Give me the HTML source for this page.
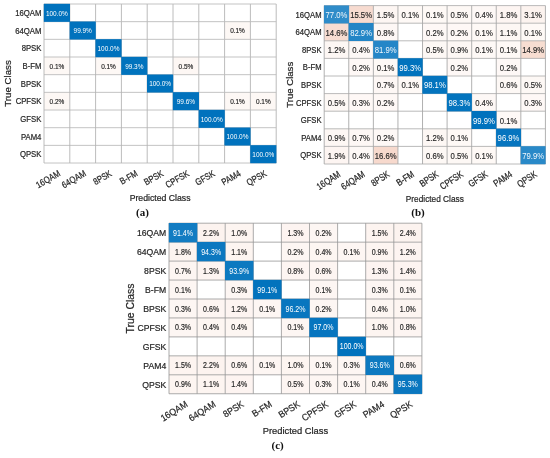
<!DOCTYPE html>
<html lang="en">
<head>
<meta charset="utf-8">
<title>Confusion matrices</title>
<style>
html,body{margin:0;padding:0;background:#fff;}
body{width:550px;height:458px;overflow:hidden;}
svg{display:block;}
svg text{font-family:"Liberation Sans",Arial,Helvetica,sans-serif;}
svg text.lb{stroke:#262626;stroke-width:0.22px;}
svg text.ct{stroke:#262626;stroke-width:0.18px;}
svg text.cap{font-family:"Liberation Serif","Times New Roman",serif;font-weight:bold;}
</style>
</head>
<body>
<svg width="550" height="458" viewBox="0 0 550 458">
<rect x="0" y="0" width="550" height="458" fill="#ffffff"/>
<g class="chart-a">
<rect x="224.60" y="21.67" width="25.80" height="17.67" fill="#fdf8f5"/>
<rect x="44.00" y="57.01" width="25.80" height="17.67" fill="#fdf8f5"/>
<rect x="95.60" y="57.01" width="25.80" height="17.67" fill="#fdf8f5"/>
<rect x="173.00" y="57.01" width="25.80" height="17.67" fill="#fdf7f4"/>
<rect x="44.00" y="92.35" width="25.80" height="17.67" fill="#fdf8f5"/>
<rect x="224.60" y="92.35" width="25.80" height="17.67" fill="#fdf8f5"/>
<rect x="250.40" y="92.35" width="25.80" height="17.67" fill="#fdf8f5"/>
<line x1="44.00" y1="4.00" x2="44.00" y2="163.03" stroke="#bcbcbc" stroke-width="1.0"/>
<line x1="44.00" y1="4.00" x2="276.20" y2="4.00" stroke="#b4b4b4" stroke-width="0.8"/>
<line x1="69.80" y1="4.00" x2="69.80" y2="163.03" stroke="#bcbcbc" stroke-width="1.0"/>
<line x1="44.00" y1="21.67" x2="276.20" y2="21.67" stroke="#b4b4b4" stroke-width="0.8"/>
<line x1="95.60" y1="4.00" x2="95.60" y2="163.03" stroke="#bcbcbc" stroke-width="1.0"/>
<line x1="44.00" y1="39.34" x2="276.20" y2="39.34" stroke="#b4b4b4" stroke-width="0.8"/>
<line x1="121.40" y1="4.00" x2="121.40" y2="163.03" stroke="#bcbcbc" stroke-width="1.0"/>
<line x1="44.00" y1="57.01" x2="276.20" y2="57.01" stroke="#b4b4b4" stroke-width="0.8"/>
<line x1="147.20" y1="4.00" x2="147.20" y2="163.03" stroke="#bcbcbc" stroke-width="1.0"/>
<line x1="44.00" y1="74.68" x2="276.20" y2="74.68" stroke="#b4b4b4" stroke-width="0.8"/>
<line x1="173.00" y1="4.00" x2="173.00" y2="163.03" stroke="#bcbcbc" stroke-width="1.0"/>
<line x1="44.00" y1="92.35" x2="276.20" y2="92.35" stroke="#b4b4b4" stroke-width="0.8"/>
<line x1="198.80" y1="4.00" x2="198.80" y2="163.03" stroke="#bcbcbc" stroke-width="1.0"/>
<line x1="44.00" y1="110.02" x2="276.20" y2="110.02" stroke="#b4b4b4" stroke-width="0.8"/>
<line x1="224.60" y1="4.00" x2="224.60" y2="163.03" stroke="#bcbcbc" stroke-width="1.0"/>
<line x1="44.00" y1="127.69" x2="276.20" y2="127.69" stroke="#b4b4b4" stroke-width="0.8"/>
<line x1="250.40" y1="4.00" x2="250.40" y2="163.03" stroke="#bcbcbc" stroke-width="1.0"/>
<line x1="44.00" y1="145.36" x2="276.20" y2="145.36" stroke="#b4b4b4" stroke-width="0.8"/>
<line x1="276.20" y1="4.00" x2="276.20" y2="163.03" stroke="#bcbcbc" stroke-width="1.0"/>
<line x1="44.00" y1="163.03" x2="276.20" y2="163.03" stroke="#b4b4b4" stroke-width="0.8"/>
<rect x="43.80" y="3.80" width="26.20" height="18.07" fill="#0072bd"/>
<rect x="69.60" y="21.47" width="26.20" height="18.07" fill="#0072bd"/>
<rect x="95.40" y="39.14" width="26.20" height="18.07" fill="#0072bd"/>
<rect x="121.20" y="56.81" width="26.20" height="18.07" fill="#0173bd"/>
<rect x="147.00" y="74.48" width="26.20" height="18.07" fill="#0072bd"/>
<rect x="172.80" y="92.15" width="26.20" height="18.07" fill="#0172bd"/>
<rect x="198.60" y="109.82" width="26.20" height="18.07" fill="#0072bd"/>
<rect x="224.40" y="127.49" width="26.20" height="18.07" fill="#0072bd"/>
<rect x="250.20" y="145.16" width="26.20" height="18.07" fill="#0072bd"/>
<text class="cw" transform="translate(56.90,15.71) scale(0.81,1)" text-anchor="middle" font-size="8.0" fill="#ffffff">100.0%</text>
<text class="cw" transform="translate(82.70,33.39) scale(0.81,1)" text-anchor="middle" font-size="8.0" fill="#ffffff">99.9%</text>
<text class="ct" transform="translate(237.50,33.39) scale(0.81,1)" text-anchor="middle" font-size="8.0" fill="#262626">0.1%</text>
<text class="cw" transform="translate(108.50,51.06) scale(0.81,1)" text-anchor="middle" font-size="8.0" fill="#ffffff">100.0%</text>
<text class="ct" transform="translate(56.90,68.72) scale(0.81,1)" text-anchor="middle" font-size="8.0" fill="#262626">0.1%</text>
<text class="ct" transform="translate(108.50,68.72) scale(0.81,1)" text-anchor="middle" font-size="8.0" fill="#262626">0.1%</text>
<text class="cw" transform="translate(134.30,68.72) scale(0.81,1)" text-anchor="middle" font-size="8.0" fill="#ffffff">99.3%</text>
<text class="ct" transform="translate(185.90,68.72) scale(0.81,1)" text-anchor="middle" font-size="8.0" fill="#262626">0.5%</text>
<text class="cw" transform="translate(160.10,86.40) scale(0.81,1)" text-anchor="middle" font-size="8.0" fill="#ffffff">100.0%</text>
<text class="ct" transform="translate(56.90,104.06) scale(0.81,1)" text-anchor="middle" font-size="8.0" fill="#262626">0.2%</text>
<text class="cw" transform="translate(185.90,104.06) scale(0.81,1)" text-anchor="middle" font-size="8.0" fill="#ffffff">99.6%</text>
<text class="ct" transform="translate(237.50,104.06) scale(0.81,1)" text-anchor="middle" font-size="8.0" fill="#262626">0.1%</text>
<text class="ct" transform="translate(263.30,104.06) scale(0.81,1)" text-anchor="middle" font-size="8.0" fill="#262626">0.1%</text>
<text class="cw" transform="translate(211.70,121.74) scale(0.81,1)" text-anchor="middle" font-size="8.0" fill="#ffffff">100.0%</text>
<text class="cw" transform="translate(237.50,139.41) scale(0.81,1)" text-anchor="middle" font-size="8.0" fill="#ffffff">100.0%</text>
<text class="cw" transform="translate(263.30,157.08) scale(0.81,1)" text-anchor="middle" font-size="8.0" fill="#ffffff">100.0%</text>
<text transform="translate(41.40,16.07) scale(0.86,1)" class="lb" text-anchor="end" font-size="9.0" fill="#262626">16QAM</text>
<text transform="translate(41.40,33.75) scale(0.86,1)" class="lb" text-anchor="end" font-size="9.0" fill="#262626">64QAM</text>
<text transform="translate(41.40,51.42) scale(0.86,1)" class="lb" text-anchor="end" font-size="9.0" fill="#262626">8PSK</text>
<text transform="translate(41.40,69.08) scale(0.86,1)" class="lb" text-anchor="end" font-size="9.0" fill="#262626">B-FM</text>
<text transform="translate(41.40,86.76) scale(0.86,1)" class="lb" text-anchor="end" font-size="9.0" fill="#262626">BPSK</text>
<text transform="translate(41.40,104.42) scale(0.86,1)" class="lb" text-anchor="end" font-size="9.0" fill="#262626">CPFSK</text>
<text transform="translate(41.40,122.10) scale(0.86,1)" class="lb" text-anchor="end" font-size="9.0" fill="#262626">GFSK</text>
<text transform="translate(41.40,139.77) scale(0.86,1)" class="lb" text-anchor="end" font-size="9.0" fill="#262626">PAM4</text>
<text transform="translate(41.40,157.44) scale(0.86,1)" class="lb" text-anchor="end" font-size="9.0" fill="#262626">QPSK</text>
<text transform="translate(57.60,169.53) rotate(-30) scale(0.83,1)" class="lb" text-anchor="end" dy="0.72em" font-size="9.3" fill="#262626">16QAM</text>
<text transform="translate(83.40,169.53) rotate(-30) scale(0.83,1)" class="lb" text-anchor="end" dy="0.72em" font-size="9.3" fill="#262626">64QAM</text>
<text transform="translate(109.20,169.53) rotate(-30) scale(0.83,1)" class="lb" text-anchor="end" dy="0.72em" font-size="9.3" fill="#262626">8PSK</text>
<text transform="translate(135.00,169.53) rotate(-30) scale(0.83,1)" class="lb" text-anchor="end" dy="0.72em" font-size="9.3" fill="#262626">B-FM</text>
<text transform="translate(160.80,169.53) rotate(-30) scale(0.83,1)" class="lb" text-anchor="end" dy="0.72em" font-size="9.3" fill="#262626">BPSK</text>
<text transform="translate(186.60,169.53) rotate(-30) scale(0.83,1)" class="lb" text-anchor="end" dy="0.72em" font-size="9.3" fill="#262626">CPFSK</text>
<text transform="translate(212.40,169.53) rotate(-30) scale(0.83,1)" class="lb" text-anchor="end" dy="0.72em" font-size="9.3" fill="#262626">GFSK</text>
<text transform="translate(238.20,169.53) rotate(-30) scale(0.83,1)" class="lb" text-anchor="end" dy="0.72em" font-size="9.3" fill="#262626">PAM4</text>
<text transform="translate(264.00,169.53) rotate(-30) scale(0.83,1)" class="lb" text-anchor="end" dy="0.72em" font-size="9.3" fill="#262626">QPSK</text>
<text transform="translate(160.10,200.7) scale(1.0,1)" class="lb" text-anchor="middle" font-size="8.7" fill="#262626">Predicted Class</text>
<text transform="translate(11.3,83.52) rotate(-90) scale(1.0,1)" class="lb" text-anchor="middle" font-size="9.7" fill="#262626">True Class</text>
<text class="cap" x="142.5" y="215.8" text-anchor="middle" font-size="11" fill="#111">(a)</text>
</g>
<g class="chart-b">
<rect x="348.78" y="5.60" width="24.58" height="17.60" fill="#f7dbd0"/>
<rect x="373.36" y="5.60" width="24.58" height="17.60" fill="#fdf6f3"/>
<rect x="397.94" y="5.60" width="24.58" height="17.60" fill="#fef9f6"/>
<rect x="422.52" y="5.60" width="24.58" height="17.60" fill="#fef9f6"/>
<rect x="447.10" y="5.60" width="24.58" height="17.60" fill="#fdf8f5"/>
<rect x="471.68" y="5.60" width="24.58" height="17.60" fill="#fdf8f6"/>
<rect x="496.26" y="5.60" width="24.58" height="17.60" fill="#fdf5f2"/>
<rect x="520.84" y="5.60" width="24.58" height="17.60" fill="#fcf3ef"/>
<rect x="324.20" y="23.20" width="24.58" height="17.60" fill="#f8ddd2"/>
<rect x="373.36" y="23.20" width="24.58" height="17.60" fill="#fdf7f5"/>
<rect x="422.52" y="23.20" width="24.58" height="17.60" fill="#fef8f6"/>
<rect x="447.10" y="23.20" width="24.58" height="17.60" fill="#fef8f6"/>
<rect x="471.68" y="23.20" width="24.58" height="17.60" fill="#fef9f6"/>
<rect x="496.26" y="23.20" width="24.58" height="17.60" fill="#fdf7f4"/>
<rect x="520.84" y="23.20" width="24.58" height="17.60" fill="#fef9f6"/>
<rect x="324.20" y="40.80" width="24.58" height="17.60" fill="#fdf7f4"/>
<rect x="348.78" y="40.80" width="24.58" height="17.60" fill="#fdf8f6"/>
<rect x="422.52" y="40.80" width="24.58" height="17.60" fill="#fdf8f5"/>
<rect x="447.10" y="40.80" width="24.58" height="17.60" fill="#fdf7f4"/>
<rect x="471.68" y="40.80" width="24.58" height="17.60" fill="#fef9f6"/>
<rect x="496.26" y="40.80" width="24.58" height="17.60" fill="#fef9f6"/>
<rect x="520.84" y="40.80" width="24.58" height="17.60" fill="#f7ddd1"/>
<rect x="348.78" y="58.40" width="24.58" height="17.60" fill="#fef8f6"/>
<rect x="373.36" y="58.40" width="24.58" height="17.60" fill="#fef9f6"/>
<rect x="447.10" y="58.40" width="24.58" height="17.60" fill="#fef8f6"/>
<rect x="496.26" y="58.40" width="24.58" height="17.60" fill="#fef8f6"/>
<rect x="373.36" y="76.00" width="24.58" height="17.60" fill="#fdf7f5"/>
<rect x="397.94" y="76.00" width="24.58" height="17.60" fill="#fef9f6"/>
<rect x="496.26" y="76.00" width="24.58" height="17.60" fill="#fdf8f5"/>
<rect x="520.84" y="76.00" width="24.58" height="17.60" fill="#fdf8f5"/>
<rect x="324.20" y="93.60" width="24.58" height="17.60" fill="#fdf8f5"/>
<rect x="348.78" y="93.60" width="24.58" height="17.60" fill="#fef8f6"/>
<rect x="373.36" y="93.60" width="24.58" height="17.60" fill="#fef8f6"/>
<rect x="471.68" y="93.60" width="24.58" height="17.60" fill="#fdf8f6"/>
<rect x="520.84" y="93.60" width="24.58" height="17.60" fill="#fef8f6"/>
<rect x="496.26" y="111.20" width="24.58" height="17.60" fill="#fef9f6"/>
<rect x="324.20" y="128.80" width="24.58" height="17.60" fill="#fdf7f4"/>
<rect x="348.78" y="128.80" width="24.58" height="17.60" fill="#fdf7f5"/>
<rect x="373.36" y="128.80" width="24.58" height="17.60" fill="#fef8f6"/>
<rect x="422.52" y="128.80" width="24.58" height="17.60" fill="#fdf7f4"/>
<rect x="447.10" y="128.80" width="24.58" height="17.60" fill="#fef9f6"/>
<rect x="324.20" y="146.40" width="24.58" height="17.60" fill="#fdf5f2"/>
<rect x="348.78" y="146.40" width="24.58" height="17.60" fill="#fdf8f6"/>
<rect x="373.36" y="146.40" width="24.58" height="17.60" fill="#f7d9cd"/>
<rect x="422.52" y="146.40" width="24.58" height="17.60" fill="#fdf8f5"/>
<rect x="447.10" y="146.40" width="24.58" height="17.60" fill="#fdf8f5"/>
<rect x="471.68" y="146.40" width="24.58" height="17.60" fill="#fef9f6"/>
<line x1="324.20" y1="5.60" x2="324.20" y2="164.00" stroke="#a8a8a8" stroke-width="0.9"/>
<line x1="324.20" y1="5.60" x2="545.42" y2="5.60" stroke="#a8a8a8" stroke-width="0.8"/>
<line x1="348.78" y1="5.60" x2="348.78" y2="164.00" stroke="#a8a8a8" stroke-width="0.9"/>
<line x1="324.20" y1="23.20" x2="545.42" y2="23.20" stroke="#a8a8a8" stroke-width="0.8"/>
<line x1="373.36" y1="5.60" x2="373.36" y2="164.00" stroke="#a8a8a8" stroke-width="0.9"/>
<line x1="324.20" y1="40.80" x2="545.42" y2="40.80" stroke="#a8a8a8" stroke-width="0.8"/>
<line x1="397.94" y1="5.60" x2="397.94" y2="164.00" stroke="#a8a8a8" stroke-width="0.9"/>
<line x1="324.20" y1="58.40" x2="545.42" y2="58.40" stroke="#a8a8a8" stroke-width="0.8"/>
<line x1="422.52" y1="5.60" x2="422.52" y2="164.00" stroke="#a8a8a8" stroke-width="0.9"/>
<line x1="324.20" y1="76.00" x2="545.42" y2="76.00" stroke="#a8a8a8" stroke-width="0.8"/>
<line x1="447.10" y1="5.60" x2="447.10" y2="164.00" stroke="#a8a8a8" stroke-width="0.9"/>
<line x1="324.20" y1="93.60" x2="545.42" y2="93.60" stroke="#a8a8a8" stroke-width="0.8"/>
<line x1="471.68" y1="5.60" x2="471.68" y2="164.00" stroke="#a8a8a8" stroke-width="0.9"/>
<line x1="324.20" y1="111.20" x2="545.42" y2="111.20" stroke="#a8a8a8" stroke-width="0.8"/>
<line x1="496.26" y1="5.60" x2="496.26" y2="164.00" stroke="#a8a8a8" stroke-width="0.9"/>
<line x1="324.20" y1="128.80" x2="545.42" y2="128.80" stroke="#a8a8a8" stroke-width="0.8"/>
<line x1="520.84" y1="5.60" x2="520.84" y2="164.00" stroke="#a8a8a8" stroke-width="0.9"/>
<line x1="324.20" y1="146.40" x2="545.42" y2="146.40" stroke="#a8a8a8" stroke-width="0.8"/>
<line x1="545.42" y1="5.60" x2="545.42" y2="164.00" stroke="#a8a8a8" stroke-width="0.9"/>
<line x1="324.20" y1="164.00" x2="545.42" y2="164.00" stroke="#a8a8a8" stroke-width="0.8"/>
<rect x="324.00" y="5.40" width="24.98" height="18.00" fill="#2f8cc9"/>
<rect x="348.58" y="23.00" width="24.98" height="18.00" fill="#2385c6"/>
<rect x="373.16" y="40.60" width="24.98" height="18.00" fill="#2586c7"/>
<rect x="397.74" y="58.20" width="24.98" height="18.00" fill="#0173bd"/>
<rect x="422.32" y="75.80" width="24.98" height="18.00" fill="#0474be"/>
<rect x="446.90" y="93.40" width="24.98" height="18.00" fill="#0374be"/>
<rect x="471.48" y="111.00" width="24.98" height="18.00" fill="#0072bd"/>
<rect x="496.06" y="128.60" width="24.98" height="18.00" fill="#0675bf"/>
<rect x="520.64" y="146.20" width="24.98" height="18.00" fill="#2989c8"/>
<text class="cw" transform="translate(336.49,18.06) scale(0.78,1)" text-anchor="middle" font-size="9.9" fill="#f2f7fb">77.0%</text>
<text class="ct" transform="translate(361.07,18.06) scale(0.78,1)" text-anchor="middle" font-size="9.9" fill="#262626">15.5%</text>
<text class="ct" transform="translate(385.65,18.06) scale(0.78,1)" text-anchor="middle" font-size="9.9" fill="#262626">1.5%</text>
<text class="ct" transform="translate(410.23,18.06) scale(0.78,1)" text-anchor="middle" font-size="9.9" fill="#262626">0.1%</text>
<text class="ct" transform="translate(434.81,18.06) scale(0.78,1)" text-anchor="middle" font-size="9.9" fill="#262626">0.1%</text>
<text class="ct" transform="translate(459.39,18.06) scale(0.78,1)" text-anchor="middle" font-size="9.9" fill="#262626">0.5%</text>
<text class="ct" transform="translate(483.97,18.06) scale(0.78,1)" text-anchor="middle" font-size="9.9" fill="#262626">0.4%</text>
<text class="ct" transform="translate(508.55,18.06) scale(0.78,1)" text-anchor="middle" font-size="9.9" fill="#262626">1.8%</text>
<text class="ct" transform="translate(533.13,18.06) scale(0.78,1)" text-anchor="middle" font-size="9.9" fill="#262626">3.1%</text>
<text class="ct" transform="translate(336.49,35.66) scale(0.78,1)" text-anchor="middle" font-size="9.9" fill="#262626">14.6%</text>
<text class="cw" transform="translate(361.07,35.66) scale(0.78,1)" text-anchor="middle" font-size="9.9" fill="#f2f7fb">82.9%</text>
<text class="ct" transform="translate(385.65,35.66) scale(0.78,1)" text-anchor="middle" font-size="9.9" fill="#262626">0.8%</text>
<text class="ct" transform="translate(434.81,35.66) scale(0.78,1)" text-anchor="middle" font-size="9.9" fill="#262626">0.2%</text>
<text class="ct" transform="translate(459.39,35.66) scale(0.78,1)" text-anchor="middle" font-size="9.9" fill="#262626">0.2%</text>
<text class="ct" transform="translate(483.97,35.66) scale(0.78,1)" text-anchor="middle" font-size="9.9" fill="#262626">0.1%</text>
<text class="ct" transform="translate(508.55,35.66) scale(0.78,1)" text-anchor="middle" font-size="9.9" fill="#262626">1.1%</text>
<text class="ct" transform="translate(533.13,35.66) scale(0.78,1)" text-anchor="middle" font-size="9.9" fill="#262626">0.1%</text>
<text class="ct" transform="translate(336.49,53.26) scale(0.78,1)" text-anchor="middle" font-size="9.9" fill="#262626">1.2%</text>
<text class="ct" transform="translate(361.07,53.26) scale(0.78,1)" text-anchor="middle" font-size="9.9" fill="#262626">0.4%</text>
<text class="cw" transform="translate(385.65,53.26) scale(0.78,1)" text-anchor="middle" font-size="9.9" fill="#f2f7fb">81.9%</text>
<text class="ct" transform="translate(434.81,53.26) scale(0.78,1)" text-anchor="middle" font-size="9.9" fill="#262626">0.5%</text>
<text class="ct" transform="translate(459.39,53.26) scale(0.78,1)" text-anchor="middle" font-size="9.9" fill="#262626">0.9%</text>
<text class="ct" transform="translate(483.97,53.26) scale(0.78,1)" text-anchor="middle" font-size="9.9" fill="#262626">0.1%</text>
<text class="ct" transform="translate(508.55,53.26) scale(0.78,1)" text-anchor="middle" font-size="9.9" fill="#262626">0.1%</text>
<text class="ct" transform="translate(533.13,53.26) scale(0.78,1)" text-anchor="middle" font-size="9.9" fill="#262626">14.9%</text>
<text class="ct" transform="translate(361.07,70.86) scale(0.78,1)" text-anchor="middle" font-size="9.9" fill="#262626">0.2%</text>
<text class="ct" transform="translate(385.65,70.86) scale(0.78,1)" text-anchor="middle" font-size="9.9" fill="#262626">0.1%</text>
<text class="cw" transform="translate(410.23,70.86) scale(0.78,1)" text-anchor="middle" font-size="9.9" fill="#ffffff">99.3%</text>
<text class="ct" transform="translate(459.39,70.86) scale(0.78,1)" text-anchor="middle" font-size="9.9" fill="#262626">0.2%</text>
<text class="ct" transform="translate(508.55,70.86) scale(0.78,1)" text-anchor="middle" font-size="9.9" fill="#262626">0.2%</text>
<text class="ct" transform="translate(385.65,88.46) scale(0.78,1)" text-anchor="middle" font-size="9.9" fill="#262626">0.7%</text>
<text class="ct" transform="translate(410.23,88.46) scale(0.78,1)" text-anchor="middle" font-size="9.9" fill="#262626">0.1%</text>
<text class="cw" transform="translate(434.81,88.46) scale(0.78,1)" text-anchor="middle" font-size="9.9" fill="#ffffff">98.1%</text>
<text class="ct" transform="translate(508.55,88.46) scale(0.78,1)" text-anchor="middle" font-size="9.9" fill="#262626">0.6%</text>
<text class="ct" transform="translate(533.13,88.46) scale(0.78,1)" text-anchor="middle" font-size="9.9" fill="#262626">0.5%</text>
<text class="ct" transform="translate(336.49,106.06) scale(0.78,1)" text-anchor="middle" font-size="9.9" fill="#262626">0.5%</text>
<text class="ct" transform="translate(361.07,106.06) scale(0.78,1)" text-anchor="middle" font-size="9.9" fill="#262626">0.3%</text>
<text class="ct" transform="translate(385.65,106.06) scale(0.78,1)" text-anchor="middle" font-size="9.9" fill="#262626">0.2%</text>
<text class="cw" transform="translate(459.39,106.06) scale(0.78,1)" text-anchor="middle" font-size="9.9" fill="#ffffff">98.3%</text>
<text class="ct" transform="translate(483.97,106.06) scale(0.78,1)" text-anchor="middle" font-size="9.9" fill="#262626">0.4%</text>
<text class="ct" transform="translate(533.13,106.06) scale(0.78,1)" text-anchor="middle" font-size="9.9" fill="#262626">0.3%</text>
<text class="cw" transform="translate(483.97,123.66) scale(0.78,1)" text-anchor="middle" font-size="9.9" fill="#ffffff">99.9%</text>
<text class="ct" transform="translate(508.55,123.66) scale(0.78,1)" text-anchor="middle" font-size="9.9" fill="#262626">0.1%</text>
<text class="ct" transform="translate(336.49,141.26) scale(0.78,1)" text-anchor="middle" font-size="9.9" fill="#262626">0.9%</text>
<text class="ct" transform="translate(361.07,141.26) scale(0.78,1)" text-anchor="middle" font-size="9.9" fill="#262626">0.7%</text>
<text class="ct" transform="translate(385.65,141.26) scale(0.78,1)" text-anchor="middle" font-size="9.9" fill="#262626">0.2%</text>
<text class="ct" transform="translate(434.81,141.26) scale(0.78,1)" text-anchor="middle" font-size="9.9" fill="#262626">1.2%</text>
<text class="ct" transform="translate(459.39,141.26) scale(0.78,1)" text-anchor="middle" font-size="9.9" fill="#262626">0.1%</text>
<text class="cw" transform="translate(508.55,141.26) scale(0.78,1)" text-anchor="middle" font-size="9.9" fill="#ffffff">96.9%</text>
<text class="ct" transform="translate(336.49,158.86) scale(0.78,1)" text-anchor="middle" font-size="9.9" fill="#262626">1.9%</text>
<text class="ct" transform="translate(361.07,158.86) scale(0.78,1)" text-anchor="middle" font-size="9.9" fill="#262626">0.4%</text>
<text class="ct" transform="translate(385.65,158.86) scale(0.78,1)" text-anchor="middle" font-size="9.9" fill="#262626">16.6%</text>
<text class="ct" transform="translate(434.81,158.86) scale(0.78,1)" text-anchor="middle" font-size="9.9" fill="#262626">0.6%</text>
<text class="ct" transform="translate(459.39,158.86) scale(0.78,1)" text-anchor="middle" font-size="9.9" fill="#262626">0.5%</text>
<text class="ct" transform="translate(483.97,158.86) scale(0.78,1)" text-anchor="middle" font-size="9.9" fill="#262626">0.1%</text>
<text class="cw" transform="translate(533.13,158.86) scale(0.78,1)" text-anchor="middle" font-size="9.9" fill="#f2f7fb">79.9%</text>
<text transform="translate(321.50,17.57) scale(0.87,1)" class="lb" text-anchor="end" font-size="8.8" fill="#262626">16QAM</text>
<text transform="translate(321.50,35.17) scale(0.87,1)" class="lb" text-anchor="end" font-size="8.8" fill="#262626">64QAM</text>
<text transform="translate(321.50,52.77) scale(0.87,1)" class="lb" text-anchor="end" font-size="8.8" fill="#262626">8PSK</text>
<text transform="translate(321.50,70.37) scale(0.87,1)" class="lb" text-anchor="end" font-size="8.8" fill="#262626">B-FM</text>
<text transform="translate(321.50,87.97) scale(0.87,1)" class="lb" text-anchor="end" font-size="8.8" fill="#262626">BPSK</text>
<text transform="translate(321.50,105.57) scale(0.87,1)" class="lb" text-anchor="end" font-size="8.8" fill="#262626">CPFSK</text>
<text transform="translate(321.50,123.17) scale(0.87,1)" class="lb" text-anchor="end" font-size="8.8" fill="#262626">GFSK</text>
<text transform="translate(321.50,140.77) scale(0.87,1)" class="lb" text-anchor="end" font-size="8.8" fill="#262626">PAM4</text>
<text transform="translate(321.50,158.37) scale(0.87,1)" class="lb" text-anchor="end" font-size="8.8" fill="#262626">QPSK</text>
<text transform="translate(337.29,170.20) rotate(-33) scale(0.8,1)" class="lb" text-anchor="end" dy="0.72em" font-size="9.6" fill="#262626">16QAM</text>
<text transform="translate(361.87,170.20) rotate(-33) scale(0.8,1)" class="lb" text-anchor="end" dy="0.72em" font-size="9.6" fill="#262626">64QAM</text>
<text transform="translate(386.45,170.20) rotate(-33) scale(0.8,1)" class="lb" text-anchor="end" dy="0.72em" font-size="9.6" fill="#262626">8PSK</text>
<text transform="translate(411.03,170.20) rotate(-33) scale(0.8,1)" class="lb" text-anchor="end" dy="0.72em" font-size="9.6" fill="#262626">B-FM</text>
<text transform="translate(435.61,170.20) rotate(-33) scale(0.8,1)" class="lb" text-anchor="end" dy="0.72em" font-size="9.6" fill="#262626">BPSK</text>
<text transform="translate(460.19,170.20) rotate(-33) scale(0.8,1)" class="lb" text-anchor="end" dy="0.72em" font-size="9.6" fill="#262626">CPFSK</text>
<text transform="translate(484.77,170.20) rotate(-33) scale(0.8,1)" class="lb" text-anchor="end" dy="0.72em" font-size="9.6" fill="#262626">GFSK</text>
<text transform="translate(509.35,170.20) rotate(-33) scale(0.8,1)" class="lb" text-anchor="end" dy="0.72em" font-size="9.6" fill="#262626">PAM4</text>
<text transform="translate(533.93,170.20) rotate(-33) scale(0.8,1)" class="lb" text-anchor="end" dy="0.72em" font-size="9.6" fill="#262626">QPSK</text>
<text transform="translate(434.81,202.3) scale(0.855,1)" class="lb" text-anchor="middle" font-size="9.7" fill="#262626">Predicted Class</text>
<text transform="translate(292.7,84.80) rotate(-90) scale(1.0,1)" class="lb" text-anchor="middle" font-size="9.6" fill="#262626">True Class</text>
<text class="cap" x="418.0" y="216.0" text-anchor="middle" font-size="11" fill="#111">(b)</text>
</g>
<g class="chart-c">
<rect x="197.10" y="223.20" width="28.10" height="18.95" fill="#fcf3ef"/>
<rect x="225.20" y="223.20" width="28.10" height="18.95" fill="#fdf5f1"/>
<rect x="281.40" y="223.20" width="28.10" height="18.95" fill="#fdf4f1"/>
<rect x="309.50" y="223.20" width="28.10" height="18.95" fill="#fdf6f3"/>
<rect x="365.70" y="223.20" width="28.10" height="18.95" fill="#fdf4f0"/>
<rect x="393.80" y="223.20" width="28.10" height="18.95" fill="#fcf3ef"/>
<rect x="169.00" y="242.15" width="28.10" height="18.95" fill="#fcf4f0"/>
<rect x="225.20" y="242.15" width="28.10" height="18.95" fill="#fdf5f1"/>
<rect x="281.40" y="242.15" width="28.10" height="18.95" fill="#fdf6f3"/>
<rect x="309.50" y="242.15" width="28.10" height="18.95" fill="#fdf6f2"/>
<rect x="337.60" y="242.15" width="28.10" height="18.95" fill="#fdf6f3"/>
<rect x="365.70" y="242.15" width="28.10" height="18.95" fill="#fdf5f1"/>
<rect x="393.80" y="242.15" width="28.10" height="18.95" fill="#fdf4f1"/>
<rect x="169.00" y="261.10" width="28.10" height="18.95" fill="#fdf5f2"/>
<rect x="197.10" y="261.10" width="28.10" height="18.95" fill="#fdf4f1"/>
<rect x="281.40" y="261.10" width="28.10" height="18.95" fill="#fdf5f2"/>
<rect x="309.50" y="261.10" width="28.10" height="18.95" fill="#fdf5f2"/>
<rect x="365.70" y="261.10" width="28.10" height="18.95" fill="#fdf4f1"/>
<rect x="393.80" y="261.10" width="28.10" height="18.95" fill="#fdf4f1"/>
<rect x="169.00" y="280.05" width="28.10" height="18.95" fill="#fdf6f3"/>
<rect x="225.20" y="280.05" width="28.10" height="18.95" fill="#fdf6f3"/>
<rect x="309.50" y="280.05" width="28.10" height="18.95" fill="#fdf6f3"/>
<rect x="365.70" y="280.05" width="28.10" height="18.95" fill="#fdf6f3"/>
<rect x="393.80" y="280.05" width="28.10" height="18.95" fill="#fdf6f3"/>
<rect x="169.00" y="299.00" width="28.10" height="18.95" fill="#fdf6f3"/>
<rect x="197.10" y="299.00" width="28.10" height="18.95" fill="#fdf5f2"/>
<rect x="225.20" y="299.00" width="28.10" height="18.95" fill="#fdf4f1"/>
<rect x="253.30" y="299.00" width="28.10" height="18.95" fill="#fdf6f3"/>
<rect x="309.50" y="299.00" width="28.10" height="18.95" fill="#fdf6f3"/>
<rect x="365.70" y="299.00" width="28.10" height="18.95" fill="#fdf6f2"/>
<rect x="393.80" y="299.00" width="28.10" height="18.95" fill="#fdf5f1"/>
<rect x="169.00" y="317.95" width="28.10" height="18.95" fill="#fdf6f3"/>
<rect x="197.10" y="317.95" width="28.10" height="18.95" fill="#fdf6f2"/>
<rect x="225.20" y="317.95" width="28.10" height="18.95" fill="#fdf6f2"/>
<rect x="281.40" y="317.95" width="28.10" height="18.95" fill="#fdf6f3"/>
<rect x="365.70" y="317.95" width="28.10" height="18.95" fill="#fdf5f1"/>
<rect x="393.80" y="317.95" width="28.10" height="18.95" fill="#fdf5f2"/>
<rect x="169.00" y="355.85" width="28.10" height="18.95" fill="#fdf4f0"/>
<rect x="197.10" y="355.85" width="28.10" height="18.95" fill="#fcf3ef"/>
<rect x="225.20" y="355.85" width="28.10" height="18.95" fill="#fdf5f2"/>
<rect x="253.30" y="355.85" width="28.10" height="18.95" fill="#fdf6f3"/>
<rect x="281.40" y="355.85" width="28.10" height="18.95" fill="#fdf5f1"/>
<rect x="309.50" y="355.85" width="28.10" height="18.95" fill="#fdf6f3"/>
<rect x="337.60" y="355.85" width="28.10" height="18.95" fill="#fdf6f3"/>
<rect x="393.80" y="355.85" width="28.10" height="18.95" fill="#fdf5f2"/>
<rect x="169.00" y="374.80" width="28.10" height="18.95" fill="#fdf5f1"/>
<rect x="197.10" y="374.80" width="28.10" height="18.95" fill="#fdf5f1"/>
<rect x="225.20" y="374.80" width="28.10" height="18.95" fill="#fdf4f1"/>
<rect x="281.40" y="374.80" width="28.10" height="18.95" fill="#fdf5f2"/>
<rect x="309.50" y="374.80" width="28.10" height="18.95" fill="#fdf6f3"/>
<rect x="337.60" y="374.80" width="28.10" height="18.95" fill="#fdf6f3"/>
<rect x="365.70" y="374.80" width="28.10" height="18.95" fill="#fdf6f2"/>
<line x1="169.00" y1="223.20" x2="169.00" y2="393.75" stroke="#969696" stroke-width="0.8"/>
<line x1="169.00" y1="223.20" x2="421.90" y2="223.20" stroke="#969696" stroke-width="0.8"/>
<line x1="197.10" y1="223.20" x2="197.10" y2="393.75" stroke="#969696" stroke-width="0.8"/>
<line x1="169.00" y1="242.15" x2="421.90" y2="242.15" stroke="#969696" stroke-width="0.8"/>
<line x1="225.20" y1="223.20" x2="225.20" y2="393.75" stroke="#969696" stroke-width="0.8"/>
<line x1="169.00" y1="261.10" x2="421.90" y2="261.10" stroke="#969696" stroke-width="0.8"/>
<line x1="253.30" y1="223.20" x2="253.30" y2="393.75" stroke="#969696" stroke-width="0.8"/>
<line x1="169.00" y1="280.05" x2="421.90" y2="280.05" stroke="#969696" stroke-width="0.8"/>
<line x1="281.40" y1="223.20" x2="281.40" y2="393.75" stroke="#969696" stroke-width="0.8"/>
<line x1="169.00" y1="299.00" x2="421.90" y2="299.00" stroke="#969696" stroke-width="0.8"/>
<line x1="309.50" y1="223.20" x2="309.50" y2="393.75" stroke="#969696" stroke-width="0.8"/>
<line x1="169.00" y1="317.95" x2="421.90" y2="317.95" stroke="#969696" stroke-width="0.8"/>
<line x1="337.60" y1="223.20" x2="337.60" y2="393.75" stroke="#969696" stroke-width="0.8"/>
<line x1="169.00" y1="336.90" x2="421.90" y2="336.90" stroke="#969696" stroke-width="0.8"/>
<line x1="365.70" y1="223.20" x2="365.70" y2="393.75" stroke="#969696" stroke-width="0.8"/>
<line x1="169.00" y1="355.85" x2="421.90" y2="355.85" stroke="#969696" stroke-width="0.8"/>
<line x1="393.80" y1="223.20" x2="393.80" y2="393.75" stroke="#969696" stroke-width="0.8"/>
<line x1="169.00" y1="374.80" x2="421.90" y2="374.80" stroke="#969696" stroke-width="0.8"/>
<line x1="421.90" y1="223.20" x2="421.90" y2="393.75" stroke="#969696" stroke-width="0.8"/>
<line x1="169.00" y1="393.75" x2="421.90" y2="393.75" stroke="#969696" stroke-width="0.8"/>
<rect x="168.80" y="223.00" width="28.50" height="19.35" fill="#127cc2"/>
<rect x="196.90" y="241.95" width="28.50" height="19.35" fill="#0c78c0"/>
<rect x="225.00" y="260.90" width="28.50" height="19.35" fill="#0c79c0"/>
<rect x="253.10" y="279.85" width="28.50" height="19.35" fill="#0273bd"/>
<rect x="281.20" y="298.80" width="28.50" height="19.35" fill="#0876bf"/>
<rect x="309.30" y="317.75" width="28.50" height="19.35" fill="#0675bf"/>
<rect x="337.40" y="336.70" width="28.50" height="19.35" fill="#0072bd"/>
<rect x="365.50" y="355.65" width="28.50" height="19.35" fill="#0d79c0"/>
<rect x="393.60" y="374.60" width="28.50" height="19.35" fill="#0a77bf"/>
<text class="cw" transform="translate(183.05,235.73) scale(0.83,1)" text-anchor="middle" font-size="8.5" fill="#ffffff">91.4%</text>
<text class="ct" transform="translate(211.15,235.73) scale(0.83,1)" text-anchor="middle" font-size="8.5" fill="#262626">2.2%</text>
<text class="ct" transform="translate(239.25,235.73) scale(0.83,1)" text-anchor="middle" font-size="8.5" fill="#262626">1.0%</text>
<text class="ct" transform="translate(295.45,235.73) scale(0.83,1)" text-anchor="middle" font-size="8.5" fill="#262626">1.3%</text>
<text class="ct" transform="translate(323.55,235.73) scale(0.83,1)" text-anchor="middle" font-size="8.5" fill="#262626">0.2%</text>
<text class="ct" transform="translate(379.75,235.73) scale(0.83,1)" text-anchor="middle" font-size="8.5" fill="#262626">1.5%</text>
<text class="ct" transform="translate(407.85,235.73) scale(0.83,1)" text-anchor="middle" font-size="8.5" fill="#262626">2.4%</text>
<text class="ct" transform="translate(183.05,254.69) scale(0.83,1)" text-anchor="middle" font-size="8.5" fill="#262626">1.8%</text>
<text class="cw" transform="translate(211.15,254.69) scale(0.83,1)" text-anchor="middle" font-size="8.5" fill="#ffffff">94.3%</text>
<text class="ct" transform="translate(239.25,254.69) scale(0.83,1)" text-anchor="middle" font-size="8.5" fill="#262626">1.1%</text>
<text class="ct" transform="translate(295.45,254.69) scale(0.83,1)" text-anchor="middle" font-size="8.5" fill="#262626">0.2%</text>
<text class="ct" transform="translate(323.55,254.69) scale(0.83,1)" text-anchor="middle" font-size="8.5" fill="#262626">0.4%</text>
<text class="ct" transform="translate(351.65,254.69) scale(0.83,1)" text-anchor="middle" font-size="8.5" fill="#262626">0.1%</text>
<text class="ct" transform="translate(379.75,254.69) scale(0.83,1)" text-anchor="middle" font-size="8.5" fill="#262626">0.9%</text>
<text class="ct" transform="translate(407.85,254.69) scale(0.83,1)" text-anchor="middle" font-size="8.5" fill="#262626">1.2%</text>
<text class="ct" transform="translate(183.05,273.63) scale(0.83,1)" text-anchor="middle" font-size="8.5" fill="#262626">0.7%</text>
<text class="ct" transform="translate(211.15,273.63) scale(0.83,1)" text-anchor="middle" font-size="8.5" fill="#262626">1.3%</text>
<text class="cw" transform="translate(239.25,273.63) scale(0.83,1)" text-anchor="middle" font-size="8.5" fill="#ffffff">93.9%</text>
<text class="ct" transform="translate(295.45,273.63) scale(0.83,1)" text-anchor="middle" font-size="8.5" fill="#262626">0.8%</text>
<text class="ct" transform="translate(323.55,273.63) scale(0.83,1)" text-anchor="middle" font-size="8.5" fill="#262626">0.6%</text>
<text class="ct" transform="translate(379.75,273.63) scale(0.83,1)" text-anchor="middle" font-size="8.5" fill="#262626">1.3%</text>
<text class="ct" transform="translate(407.85,273.63) scale(0.83,1)" text-anchor="middle" font-size="8.5" fill="#262626">1.4%</text>
<text class="ct" transform="translate(183.05,292.58) scale(0.83,1)" text-anchor="middle" font-size="8.5" fill="#262626">0.1%</text>
<text class="ct" transform="translate(239.25,292.58) scale(0.83,1)" text-anchor="middle" font-size="8.5" fill="#262626">0.3%</text>
<text class="cw" transform="translate(267.35,292.58) scale(0.83,1)" text-anchor="middle" font-size="8.5" fill="#ffffff">99.1%</text>
<text class="ct" transform="translate(323.55,292.58) scale(0.83,1)" text-anchor="middle" font-size="8.5" fill="#262626">0.1%</text>
<text class="ct" transform="translate(379.75,292.58) scale(0.83,1)" text-anchor="middle" font-size="8.5" fill="#262626">0.3%</text>
<text class="ct" transform="translate(407.85,292.58) scale(0.83,1)" text-anchor="middle" font-size="8.5" fill="#262626">0.1%</text>
<text class="ct" transform="translate(183.05,311.53) scale(0.83,1)" text-anchor="middle" font-size="8.5" fill="#262626">0.3%</text>
<text class="ct" transform="translate(211.15,311.53) scale(0.83,1)" text-anchor="middle" font-size="8.5" fill="#262626">0.6%</text>
<text class="ct" transform="translate(239.25,311.53) scale(0.83,1)" text-anchor="middle" font-size="8.5" fill="#262626">1.2%</text>
<text class="ct" transform="translate(267.35,311.53) scale(0.83,1)" text-anchor="middle" font-size="8.5" fill="#262626">0.1%</text>
<text class="cw" transform="translate(295.45,311.53) scale(0.83,1)" text-anchor="middle" font-size="8.5" fill="#ffffff">96.2%</text>
<text class="ct" transform="translate(323.55,311.53) scale(0.83,1)" text-anchor="middle" font-size="8.5" fill="#262626">0.2%</text>
<text class="ct" transform="translate(379.75,311.53) scale(0.83,1)" text-anchor="middle" font-size="8.5" fill="#262626">0.4%</text>
<text class="ct" transform="translate(407.85,311.53) scale(0.83,1)" text-anchor="middle" font-size="8.5" fill="#262626">1.0%</text>
<text class="ct" transform="translate(183.05,330.48) scale(0.83,1)" text-anchor="middle" font-size="8.5" fill="#262626">0.3%</text>
<text class="ct" transform="translate(211.15,330.48) scale(0.83,1)" text-anchor="middle" font-size="8.5" fill="#262626">0.4%</text>
<text class="ct" transform="translate(239.25,330.48) scale(0.83,1)" text-anchor="middle" font-size="8.5" fill="#262626">0.4%</text>
<text class="ct" transform="translate(295.45,330.48) scale(0.83,1)" text-anchor="middle" font-size="8.5" fill="#262626">0.1%</text>
<text class="cw" transform="translate(323.55,330.48) scale(0.83,1)" text-anchor="middle" font-size="8.5" fill="#ffffff">97.0%</text>
<text class="ct" transform="translate(379.75,330.48) scale(0.83,1)" text-anchor="middle" font-size="8.5" fill="#262626">1.0%</text>
<text class="ct" transform="translate(407.85,330.48) scale(0.83,1)" text-anchor="middle" font-size="8.5" fill="#262626">0.8%</text>
<text class="cw" transform="translate(351.65,349.44) scale(0.83,1)" text-anchor="middle" font-size="8.5" fill="#ffffff">100.0%</text>
<text class="ct" transform="translate(183.05,368.38) scale(0.83,1)" text-anchor="middle" font-size="8.5" fill="#262626">1.5%</text>
<text class="ct" transform="translate(211.15,368.38) scale(0.83,1)" text-anchor="middle" font-size="8.5" fill="#262626">2.2%</text>
<text class="ct" transform="translate(239.25,368.38) scale(0.83,1)" text-anchor="middle" font-size="8.5" fill="#262626">0.6%</text>
<text class="ct" transform="translate(267.35,368.38) scale(0.83,1)" text-anchor="middle" font-size="8.5" fill="#262626">0.1%</text>
<text class="ct" transform="translate(295.45,368.38) scale(0.83,1)" text-anchor="middle" font-size="8.5" fill="#262626">1.0%</text>
<text class="ct" transform="translate(323.55,368.38) scale(0.83,1)" text-anchor="middle" font-size="8.5" fill="#262626">0.1%</text>
<text class="ct" transform="translate(351.65,368.38) scale(0.83,1)" text-anchor="middle" font-size="8.5" fill="#262626">0.3%</text>
<text class="cw" transform="translate(379.75,368.38) scale(0.83,1)" text-anchor="middle" font-size="8.5" fill="#ffffff">93.6%</text>
<text class="ct" transform="translate(407.85,368.38) scale(0.83,1)" text-anchor="middle" font-size="8.5" fill="#262626">0.6%</text>
<text class="ct" transform="translate(183.05,387.33) scale(0.83,1)" text-anchor="middle" font-size="8.5" fill="#262626">0.9%</text>
<text class="ct" transform="translate(211.15,387.33) scale(0.83,1)" text-anchor="middle" font-size="8.5" fill="#262626">1.1%</text>
<text class="ct" transform="translate(239.25,387.33) scale(0.83,1)" text-anchor="middle" font-size="8.5" fill="#262626">1.4%</text>
<text class="ct" transform="translate(295.45,387.33) scale(0.83,1)" text-anchor="middle" font-size="8.5" fill="#262626">0.5%</text>
<text class="ct" transform="translate(323.55,387.33) scale(0.83,1)" text-anchor="middle" font-size="8.5" fill="#262626">0.3%</text>
<text class="ct" transform="translate(351.65,387.33) scale(0.83,1)" text-anchor="middle" font-size="8.5" fill="#262626">0.1%</text>
<text class="ct" transform="translate(379.75,387.33) scale(0.83,1)" text-anchor="middle" font-size="8.5" fill="#262626">0.4%</text>
<text class="cw" transform="translate(407.85,387.33) scale(0.83,1)" text-anchor="middle" font-size="8.5" fill="#ffffff">95.3%</text>
<text transform="translate(166.20,236.06) scale(0.92,1)" class="lb" text-anchor="end" font-size="9.4" fill="#262626">16QAM</text>
<text transform="translate(166.20,255.01) scale(0.92,1)" class="lb" text-anchor="end" font-size="9.4" fill="#262626">64QAM</text>
<text transform="translate(166.20,273.96) scale(0.92,1)" class="lb" text-anchor="end" font-size="9.4" fill="#262626">8PSK</text>
<text transform="translate(166.20,292.91) scale(0.92,1)" class="lb" text-anchor="end" font-size="9.4" fill="#262626">B-FM</text>
<text transform="translate(166.20,311.86) scale(0.92,1)" class="lb" text-anchor="end" font-size="9.4" fill="#262626">BPSK</text>
<text transform="translate(166.20,330.81) scale(0.92,1)" class="lb" text-anchor="end" font-size="9.4" fill="#262626">CPFSK</text>
<text transform="translate(166.20,349.76) scale(0.92,1)" class="lb" text-anchor="end" font-size="9.4" fill="#262626">GFSK</text>
<text transform="translate(166.20,368.71) scale(0.92,1)" class="lb" text-anchor="end" font-size="9.4" fill="#262626">PAM4</text>
<text transform="translate(166.20,387.66) scale(0.92,1)" class="lb" text-anchor="end" font-size="9.4" fill="#262626">QPSK</text>
<text transform="translate(184.75,400.25) rotate(-32) scale(0.93,1)" class="lb" text-anchor="end" dy="0.72em" font-size="9.4" fill="#262626">16QAM</text>
<text transform="translate(212.85,400.25) rotate(-32) scale(0.93,1)" class="lb" text-anchor="end" dy="0.72em" font-size="9.4" fill="#262626">64QAM</text>
<text transform="translate(240.95,400.25) rotate(-32) scale(0.93,1)" class="lb" text-anchor="end" dy="0.72em" font-size="9.4" fill="#262626">8PSK</text>
<text transform="translate(269.05,400.25) rotate(-32) scale(0.93,1)" class="lb" text-anchor="end" dy="0.72em" font-size="9.4" fill="#262626">B-FM</text>
<text transform="translate(297.15,400.25) rotate(-32) scale(0.93,1)" class="lb" text-anchor="end" dy="0.72em" font-size="9.4" fill="#262626">BPSK</text>
<text transform="translate(325.25,400.25) rotate(-32) scale(0.93,1)" class="lb" text-anchor="end" dy="0.72em" font-size="9.4" fill="#262626">CPFSK</text>
<text transform="translate(353.35,400.25) rotate(-32) scale(0.93,1)" class="lb" text-anchor="end" dy="0.72em" font-size="9.4" fill="#262626">GFSK</text>
<text transform="translate(381.45,400.25) rotate(-32) scale(0.93,1)" class="lb" text-anchor="end" dy="0.72em" font-size="9.4" fill="#262626">PAM4</text>
<text transform="translate(409.55,400.25) rotate(-32) scale(0.93,1)" class="lb" text-anchor="end" dy="0.72em" font-size="9.4" fill="#262626">QPSK</text>
<text transform="translate(295.45,434.1) scale(1.0,1)" class="lb" text-anchor="middle" font-size="9.35" fill="#262626">Predicted Class</text>
<text transform="translate(133.5,308.47) rotate(-90) scale(1.0,1)" class="lb" text-anchor="middle" font-size="10.4" fill="#262626">True Class</text>
<text class="cap" x="277.6" y="449.2" text-anchor="middle" font-size="11" fill="#111">(c)</text>
</g>
</svg>
</body>
</html>
